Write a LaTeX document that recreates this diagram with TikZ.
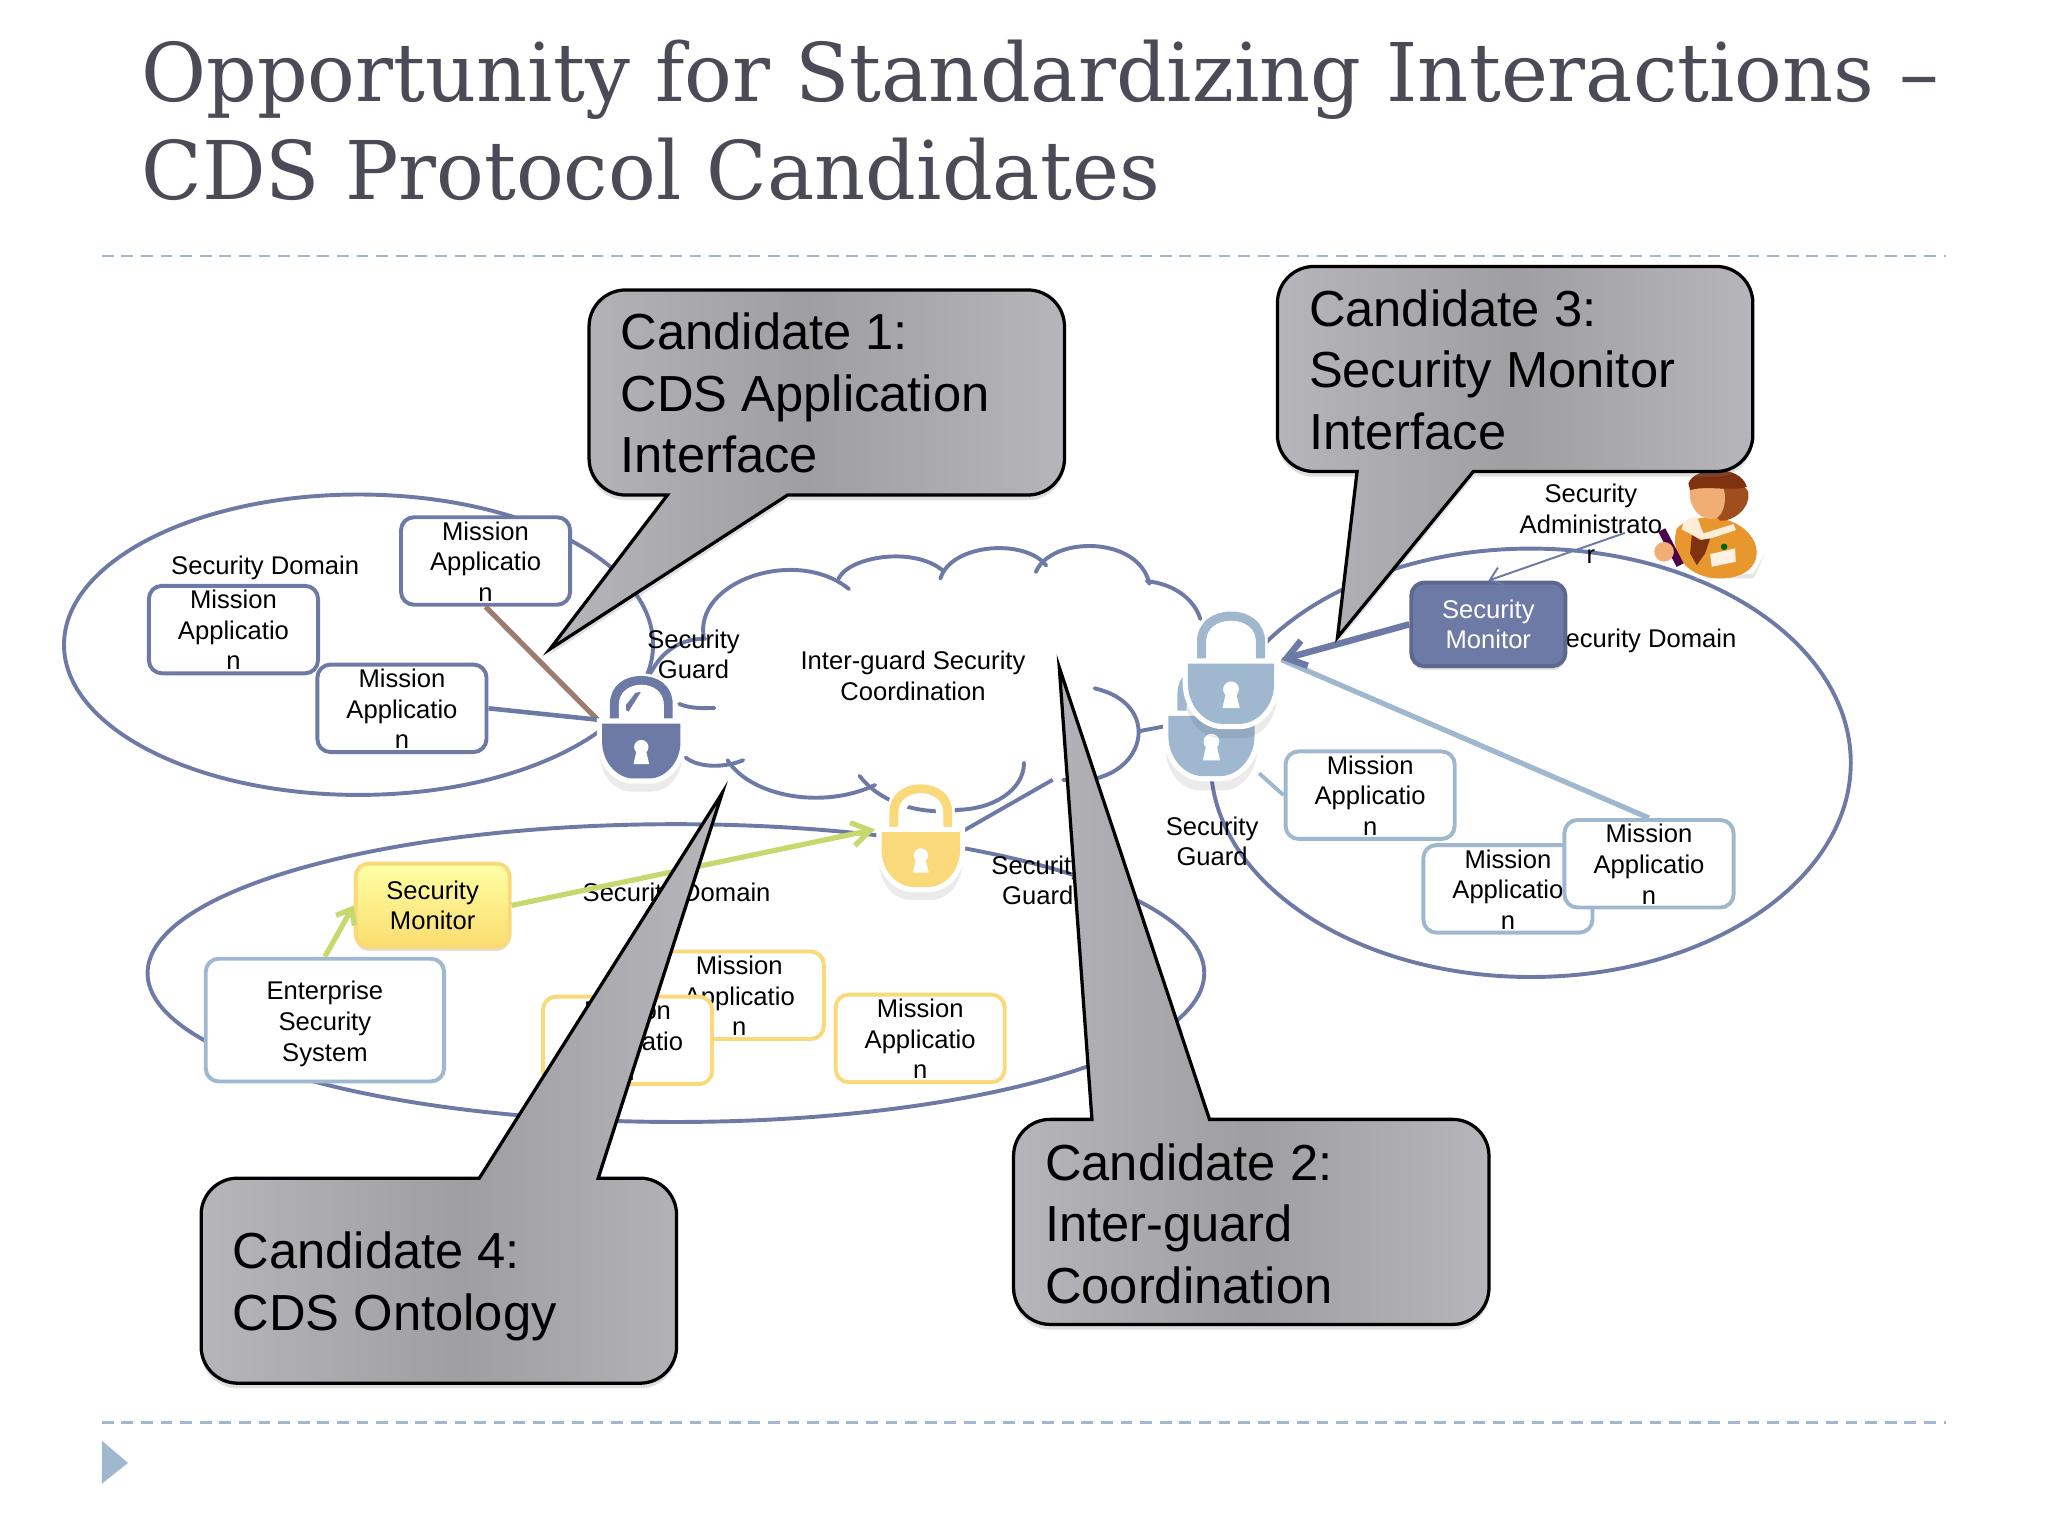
\documentclass[tikz,border=0pt]{standalone}
\usepackage{fontspec}
\setmainfont{Liberation Sans}
\newfontfamily\titlefont[FakeStretch=0.98]{DejaVu Serif}
\usetikzlibrary{positioning,calc,shadows,arrows.meta}

\definecolor{slate}{HTML}{6E7AA6}
\definecolor{steel}{HTML}{9FB8D0}
\definecolor{gold}{HTML}{FAD97A}
\definecolor{leaf}{HTML}{C6D96F}
\definecolor{titleink}{HTML}{4B4B57}
\definecolor{calloutside}{HTML}{B6B5B9}
\definecolor{calloutmid}{HTML}{9F9EA1}
\definecolor{hairdark}{HTML}{7E3210}
\definecolor{hairmid}{HTML}{A04E1E}
\definecolor{skintone}{HTML}{F0AE74}
\definecolor{vestcolor}{HTML}{E8962E}

\newcommand{\apptext}{\rule{0pt}{15pt}Mission\\Applicatio\\n}

\tikzset{
  domainring/.style={draw=slate, line width=3pt},
  cloudline/.style={draw=slate, line width=3pt, line cap=round},
  appbox/.style={draw=#1, fill=white, line width=3pt, rounded corners=10pt, align=center,
    minimum width=129.5pt, minimum height=67pt, inner sep=0pt, inner ysep=-4pt,
    font=\fontsize{19.6}{23.4}\selectfont},
  monitorbox/.style={appbox=#1, minimum width=118pt, minimum height=64pt, drop shadow={shadow xshift=0pt, shadow yshift=-3pt, opacity=.25}},
  textlabel/.style={align=center, inner sep=0pt, font=\fontsize{19.6}{23.4}\selectfont},
  calloutshape/.style={draw=black, line width=2.5pt, left color=calloutside, right color=calloutside, middle color=calloutmid,
    drop shadow={shadow xshift=0pt, shadow yshift=-4pt, opacity=.25}},
  calloutlabel/.style={anchor=west, align=left, inner sep=0pt, font=\fontsize{38.8}{47}\selectfont},
  titleline/.style={anchor=base west, inner sep=0pt, text=titleink, font=\titlefont\fontsize{62}{76}\selectfont},
  ruleline/.style={draw=steel, line width=2pt, dash pattern=on 9pt off 6pt},
  lockicon/.pic={
    \fill[black, opacity=.08] (-32,6) -- (32,6) -- (32,22) .. controls (32,40) and (20,52) .. (8,52) -- (-8,52) .. controls (-20,52) and (-32,40) .. (-32,22) -- cycle;
    \draw[white, line width=11pt] (-20.5,2) -- (-20.5,-15) .. controls (-20.5,-27) and (-11,-33) .. (0,-33) .. controls (11,-33) and (20.5,-27) .. (20.5,-15) -- (20.5,2);
    \draw[#1, line width=7pt] (-20.5,2) -- (-20.5,-15) .. controls (-20.5,-27) and (-11,-33) .. (0,-33) .. controls (11,-33) and (20.5,-27) .. (20.5,-15) -- (20.5,2);
    \draw[white, line width=5.5pt] (-14.5,2) -- (-14.5,-14) .. controls (-14.5,-22) and (-8,-27) .. (0,-27) .. controls (8,-27) and (14.5,-22) .. (14.5,-14) -- (14.5,2);
    \draw[white, line width=8pt] (-30,0) -- (30,0) -- (30,14) .. controls (30,30) and (18,42) .. (6,42) -- (-6,42) .. controls (-18,42) and (-30,30) .. (-30,14) -- cycle;
    \fill[#1] (-30,0) -- (30,0) -- (30,14) .. controls (30,30) and (18,42) .. (6,42) -- (-6,42) .. controls (-18,42) and (-30,30) .. (-30,14) -- cycle;
    \fill[white] (0,18) circle [radius=5.5pt];
    \fill[white] (-3,18) -- (3,18) -- (6,31) -- (-6,31) -- cycle;
  },
}

\begin{document}
\begin{tikzpicture}[x=1pt, y=-1pt]
  \useasboundingbox (0,0) rectangle (1568,1176);

  % Title and rules
  \node[titleline] (titleA) at (108,78) {Opportunity for Standardizing Interactions –};
  \node[titleline] (titleB) at (108,153) {CDS Protocol Candidates};
  \draw[ruleline] (78,196) -- (1490,196);
  \draw[ruleline] (78,1089) -- (1490,1089);
  \fill[steel] (78,1103) -- (98,1120) -- (78,1136) -- cycle;

  % Domains
  \draw[domainring] (274.5,493.6) ellipse [x radius=225.5pt, y radius=115pt];
  \draw[domainring] (517.5,745) ellipse [x radius=404.5pt, y radius=114pt];
  \draw[domainring] (1172,584) ellipse [x radius=245pt, y radius=164pt];

  % Cloud
  \draw[cloudline] (500,512) .. controls (510,495) and (525,489) .. (540,489);
  \draw[cloudline] (539,489) .. controls (530,445) and (610,418) .. (650,451);
  \draw[cloudline] (642,443) .. controls (650,426) and (700,418) .. (722,437);
  \draw[cloudline] (720,443) .. controls (728,416) and (785,412) .. (801,433);
  \draw[cloudline] (793,438) .. controls (805,410) and (872,410) .. (880,447);
  \draw[cloudline] (878,445) .. controls (900,447) and (915,460) .. (919,474);
  \draw[cloudline] (838,527) .. controls (895,540) and (875,605) .. (814,597);
  \draw[cloudline] (784,584) .. controls (784,605) and (760,620) .. (732,620);
  \draw[cloudline] (658,594) .. controls (672,612) and (700,625) .. (735,620);
  \draw[cloudline] (557,582) .. controls (575,610) and (630,620) .. (670,601);
  \draw[cloudline] (525,580) .. controls (535,588) and (555,588) .. (569,582);
  \draw[cloudline] (520,539) .. controls (530,543) and (540,542) .. (547,542);

  % Person
  \begin{scope}[shift={(1255.7,344.6)}, x=.2552pt, y=-.2552pt]
    \fill[black!10] (160,385) -- (340,385) -- (380,300) -- (340,370) -- cycle;
    \fill[vestcolor] (110,235) .. controls (150,190) and (300,180) .. (345,280) .. controls (365,340) and (320,385) .. (240,385) .. controls (150,385) and (85,320) .. (110,235) -- cycle;
    \fill[white!85!orange] (130,215) -- (170,198) -- (190,250) -- (280,222) -- (288,240) -- (190,272) -- (125,238) -- cycle;
    \fill[hairdark] (155,255) -- (180,270) -- (210,265) -- (195,310) -- (170,345) -- (150,310) -- cycle;
    \fill[white!90!orange] (210,312) -- (285,295) -- (287,335) -- (215,350) -- cycle;
    \fill[black!60!green] (252,290) circle [radius=2.5pt];
    \fill[hairmid] (145,100) .. controls (215,70) and (320,90) .. (325,130) .. controls (330,175) and (280,215) .. (240,212) -- cycle;
    \fill[skintone] (150,110) .. controls (140,180) and (190,215) .. (225,205) .. controls (255,195) and (260,140) .. (250,115) -- cycle;
    \fill[hairdark] (145,100) .. controls (160,50) and (300,40) .. (320,110) .. controls (270,125) and (200,105) .. (150,120) -- cycle;
    \draw[violet!60!black, line width=6pt] (65,240) -- (120,345);
    \fill[skintone] (72,305) circle [radius=7.5pt];
  \end{scope}

  % Connectors
  \coordinate (guardBlueport) at (457.5,551);
  \coordinate (guardYellowport) at (670,635);
  \coordinate (guardFrontport) at (981,505);
  \coordinate (guardBackport) at (964,592);
  \coordinate (shackleport) at (480,544);
  \coordinate (cloudportA) at (500,512);
  \coordinate (cloudportB) at (871,560);
  \coordinate (guardBackside) at (892,556);
  \coordinate (cloudportC) at (806,597);
  \coordinate (guardYellowside) at (736,637);
  \coordinate (adminport) at (1244,408);
  \draw[slate, line width=3pt] (shackleport) -- (cloudportA);
  \draw[slate, line width=3pt] (cloudportB) -- (guardBackside);
  \draw[slate, line width=3pt] (cloudportC) -- (guardYellowside);

  % Mission boxes
  \node[appbox=slate] (appA) at (178.75,482) {\apptext};
  \node[appbox=slate] (appB) at (371.75,429.5) {\apptext};
  \node[appbox=slate] (appC) at (307.75,542.3) {\apptext};
  \node[appbox=gold] (appD) at (566,762) {\apptext};
  \node[appbox=gold] (appE) at (480.5,796.5) {\apptext};
  \node[appbox=gold] (appF) at (704.5,795) {\apptext};
  \node[appbox=steel] (appG) at (1049,608.8) {\apptext};
  \node[appbox=steel] (appH) at (1154.5,680.5) {\apptext};
  \node[appbox=steel] (appI) at (1262.5,661.3) {\apptext};
  \node[appbox=steel, minimum width=182.5pt, minimum height=94pt] (enterprise) at (248.75,781) {\rule{0pt}{20pt}Enterprise\\Security\\System};

  % Labels
  \node[textlabel] (domainA) at (203,434.5) {Security Domain};
  \node[textlabel] (domainB) at (518,685) {Security Domain};
  \node[textlabel] (domainC) at (1257.5,490.5) {Security Domain};
  \node[textlabel] (guardLabelA) at (531,501) {Security\\Guard};
  \node[textlabel] (guardLabelB) at (794.5,674) {Security\\Guard};
  \node[textlabel] (guardLabelC) at (928,644) {Security\\Guard};
  \node[textlabel] (coordination) at (699,517.5) {Inter-guard Security\\Coordination};
  \node[textlabel] (admin) at (1218,401) {Security\\Administrato\\r};

  % Monitors
  \node[monitorbox=gold, top color=yellow!35!white, bottom color=gold!90!yellow] (monitorYellow) at (331.25,693.2) {Security\\Monitor};
  \node[monitorbox=slate!85!black, fill=slate, text=white] (monitorBlue) at (1139.5,478) {Security\\Monitor};

  \draw[steel, line width=4pt] (appI.north) -- (guardFrontport);
  \draw[steel, line width=3pt] (guardBackport) -- (appG.west);
  \draw[slate, line width=5pt, -{Straight Barb[length=14pt,width=20pt]}] (monitorBlue.west) -- (guardFrontport);
  \draw[slate, line width=1.5pt, -{Straight Barb[length=9pt,width=14pt]}] (adminport) -- (monitorBlue.north);
  \draw[leaf, line width=4pt, -{Straight Barb[length=14pt,width=18pt]}] (monitorYellow.east) -- (guardYellowport);
  \draw[leaf, line width=4pt, -{Straight Barb[length=10pt,width=16pt]}] (enterprise.north) -- (monitorYellow.west);
  \draw[brown!55!slate, line width=4pt] (appB.south) -- (guardBlueport);
  \draw[slate, line width=3.5pt] (appC.east) -- (guardBlueport);

  % Locks
  \pic at (491,554) {lockicon=slate};
  \pic at (705,637) {lockicon=gold};
  \pic[scale=1.1] at (927.5,548) {lockicon=steel};
  \pic[scale=1.1] at (942.5,508) {lockicon=steel};

  % Callouts
  \draw[calloutshape] (511,379) [sharp corners] -- (421,497) -- (603,379) {[rounded corners=28pt] -- (815,379) -- (815,222) -- (451,222) -- (451,379)} -- cycle;
  \draw[calloutshape] (1039,361) [sharp corners] -- (1024,488) -- (1128,361) {[rounded corners=28pt] -- (1342,361) -- (1342,204) -- (978,204) -- (978,361)} -- cycle;
  \draw[calloutshape] (926,857) [sharp corners] -- (811,511) -- (836,857) {[rounded corners=28pt] -- (776,857) -- (776,1014) -- (1140,1014) -- (1140,857)} -- cycle;
  \draw[calloutshape] (458,902) [sharp corners] -- (553,607) -- (367,902) {[rounded corners=28pt] -- (154,902) -- (154,1059) -- (518,1059) -- (518,902)} -- cycle;
  \node[calloutlabel] (candA) at (475,301) {Candidate 1:\\CDS Application\\Interface};
  \node[calloutlabel] (candC) at (1002,283) {Candidate 3:\\Security Monitor\\Interface};
  \node[calloutlabel] (candB) at (800,937) {Candidate 2:\\Inter-guard\\Coordination};
  \node[calloutlabel] (candD) at (178,985) {Candidate 4:\\CDS Ontology};
\end{tikzpicture}
\end{document}
